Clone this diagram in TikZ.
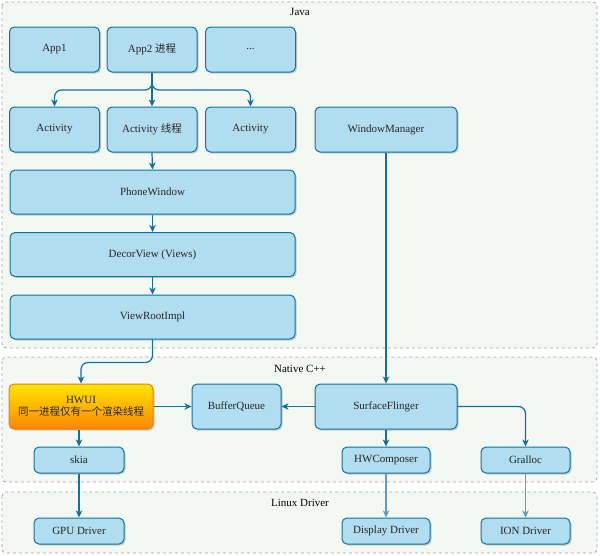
\documentclass[tikz,border=0pt]{standalone}
\usepackage{fontspec}
\setmainfont{Liberation Serif}
\newfontfamily\cjk{Noto Sans CJK SC}
\usetikzlibrary{arrows.meta,shadows}
\definecolor{boxfill}{HTML}{B1DDF0}
\definecolor{boxline}{HTML}{10739E}
\definecolor{laneback}{HTML}{F3F8F3}
\definecolor{laneline}{HTML}{A3A3A3}
\definecolor{softline}{HTML}{5A9FC0}
\newcommand{\flw}{-{Stealth[length=7pt,width=6.5pt,inset=2pt]}}
\tikzset{
  lane/.style={draw=laneline, dashed, fill=laneback, rounded corners=4pt, line width=0.8pt},
  blk/.style={draw=boxline, fill=boxfill, rounded corners=5pt, line width=1pt,
    inner sep=0pt, align=center, text=black!85,
    drop shadow={shadow xshift=1.5pt, shadow yshift=-1.5pt, opacity=0.3, fill=black!60}},
  link/.style={boxline, line width=1.2pt},
}

\begin{document}
\begin{tikzpicture}[x=1pt,y=-1pt,font=\fontsize{11}{13}\selectfont]
\useasboundingbox (0,0) rectangle (600,555);
%layers
\draw[lane] (2,2) rectangle (597,348);
\draw[lane] (2,357) rectangle (597,482);
\draw[lane] (2,492) rectangle (597,553);
\node (java) at (300,12) {Java};
\node (native) at (300,369) {Native C++};
\node (linux) at (300,503) {Linux Driver};
%java layer
\node[blk, minimum width=90, minimum height=45] (app1) at (54.5,49.5) {App1};
\node[blk, minimum width=90, minimum height=45] (app2) at (152,49.5) {App2 {\cjk\fontsize{10.5}{13}\selectfont 进程}};
\node[blk, minimum width=90, minimum height=45] (appn) at (250.5,49.5) {...};
\node[blk, minimum width=90, minimum height=45] (act1) at (54.5,129.5) {Activity};
\node[blk, minimum width=90, minimum height=45] (act2) at (152,129.5) {Activity {\cjk\fontsize{10.5}{13}\selectfont 线程}};
\node[blk, minimum width=90, minimum height=45] (act3) at (250.5,129.5) {Activity};
\node[blk, minimum width=142, minimum height=45] (wm) at (386,129.5) {WindowManager};
\node[blk, minimum width=285, minimum height=44] (pw) at (152.5,192) {PhoneWindow};
\node[blk, minimum width=285, minimum height=44] (dv) at (152.5,254.5) {DecorView (Views)};
\node[blk, minimum width=285, minimum height=44] (vri) at (152.5,317) {ViewRootImpl};
%native layer
\node[blk, draw=orange!70!brown, top color=yellow!80!orange, bottom color=orange!95!yellow,
  minimum width=144, minimum height=45] (hwui) at (81,406.5)
  {HWUI\\[-1pt]{\cjk\fontsize{10.5}{12}\selectfont 同一进程仅有一个渲染线程}};
\node[blk, minimum width=89, minimum height=45] (bq) at (236.5,406.5) {BufferQueue};
\node[blk, minimum width=142, minimum height=45] (sf) at (386,406.5) {SurfaceFlinger};
\node[blk, minimum width=90, minimum height=26] (skia) at (79,460) {skia};
\node[blk, minimum width=88, minimum height=26] (hwc) at (386,460) {HWComposer};
\node[blk, minimum width=89, minimum height=26] (gra) at (525.5,460) {Gralloc};
%driver layer
\node[blk, minimum width=90, minimum height=26] (gpu) at (79,531) {GPU Driver};
\node[blk, minimum width=88, minimum height=26] (disp) at (386,531) {Display Driver};
\node[blk, minimum width=89, minimum height=26] (ion) at (525.5,531) {ION Driver};
%links
\coordinate (split) at (152,90);
\draw[link,\flw,rounded corners=7pt] (app2.south) -- (split) -| (act1.north);
\draw[link,\flw,rounded corners=7pt] (app2.south) -- (split) -| (act3.north);
\draw[link,\flw] (app2.south) -- (act2.north);
\draw[link,\flw] (act2.south) -- (pw.north);
\draw[link,\flw] (pw.south) -- (dv.north);
\draw[link,\flw] (dv.south) -- (vri.north);
\draw[link,\flw,rounded corners=7pt] (vri.south) -- ++(0,23) -| (hwui.north);
\draw[link,\flw] (hwui.east) -- (bq.west);
\draw[link,\flw] (sf.west) -- (bq.east);
\draw[link,\flw] (wm.south) -- (sf.north);
\draw[link,\flw] (sf.south) -- (hwc.north);
\draw[link,\flw,rounded corners=7pt] (sf.east) -| (gra.north);
\draw[link,\flw] (hwui.south -| skia.north) -- (skia.north);
\draw[link,\flw] (skia.south) -- (gpu.north);
\draw[link,softline,\flw] (hwc.south) -- (disp.north);
\draw[link,softline,\flw] (gra.south) -- (ion.north);
\end{tikzpicture}
\end{document}
